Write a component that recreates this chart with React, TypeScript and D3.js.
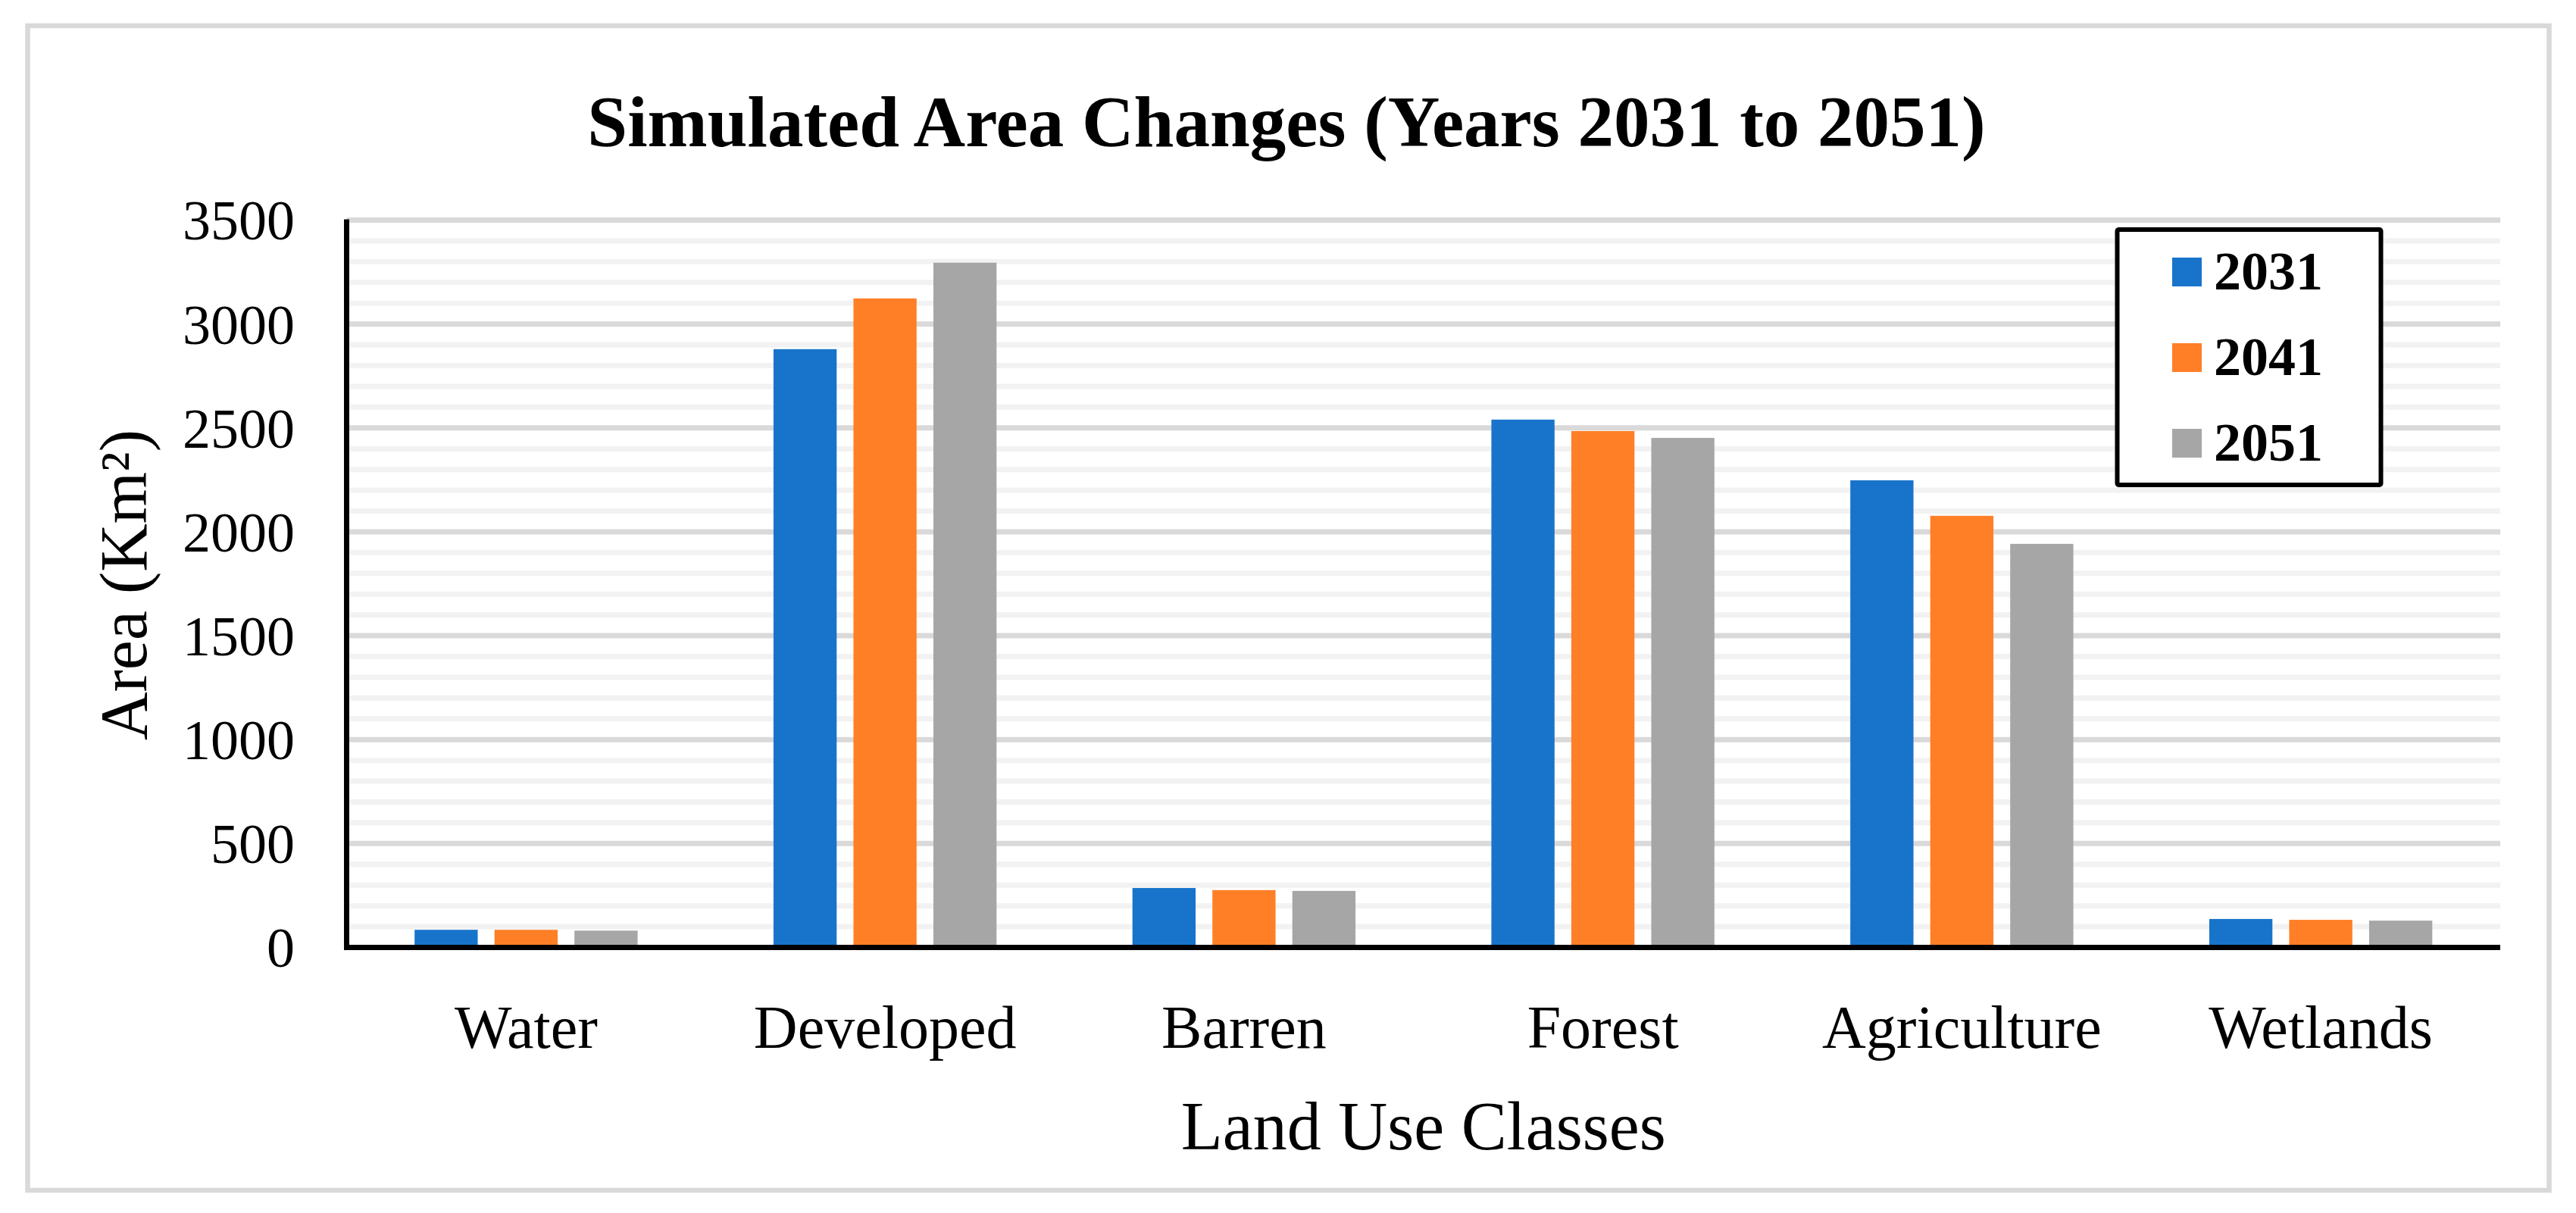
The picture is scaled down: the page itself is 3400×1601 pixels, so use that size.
import * as d3 from 'd3';

const categories = ['Water', 'Developed', 'Barren', 'Forest', 'Agriculture', 'Wetlands'];
const series = ['2031', '2041', '2051'];
const values2031 = [85, 2879, 286, 2540, 2248, 137];
const values2041 = [85, 3123, 276, 2485, 2077, 133];
const values2051 = [81, 3295, 272, 2452, 1942, 129];
const colors = ['#1874CA', '#FF7F27', '#A6A6A6'];
const majorTicks = [0, 500, 1000, 1500, 2000, 2500, 3000, 3500];

const W = 3400;
const H = 1601;
const FONT = '"Liberation Serif", "Times New Roman", serif';

export default function App() {
  const left = 457.5;
  const right = 3300;
  const top = 290.5;
  const bottom = 1250.5;

  const x0 = d3.scaleBand<string>().domain(categories).range([left, right]);
  const x1 = d3
    .scaleBand<string>()
    .domain(series)
    .range([0, x0.bandwidth()])
    .paddingInner(0.21)
    .paddingOuter(0.85);
  const y = d3.scaleLinear().domain([0, 3500]).range([bottom, top]);

  const allValues = [values2031, values2041, values2051];
  const minorTicks = d3.range(0, 3501, 100).filter((t) => t % 500 !== 0);

  // legend box
  const lg = { x: 2794.5, y: 303, w: 348, h: 337 };

  return (
    <svg
      width={W}
      height={H}
      style={{ position: 'absolute', left: 0, top: 0, background: '#fff' }}
      fontFamily={FONT}
    >
      <rect x={0} y={0} width={W} height={H} fill="#fff" />
      <rect x={36.5} y={34} width={3328} height={1537} fill="#fff" stroke="#d9d9d9" strokeWidth={6.5} />

      <text x={1698} y={193} textAnchor="middle" fontSize={95} fontWeight="bold">
        Simulated Area Changes (Years 2031 to 2051)
      </text>

      {/* gridlines */}
      {minorTicks.map((t) => (
        <line key={'mi' + t} x1={left} x2={right} y1={y(t)} y2={y(t)} stroke="#f2f2f2" strokeWidth={7} />
      ))}
      {majorTicks.map((t) => (
        <line key={'ma' + t} x1={left} x2={right} y1={y(t)} y2={y(t)} stroke="#d9d9d9" strokeWidth={7} />
      ))}

      {/* bars */}
      {series.map((s, si) => (
        <g key={s} fill={colors[si]}>
          {categories.map((c, ci) => (
            <rect
              key={c}
              x={(x0(c) as number) + (x1(s) as number)}
              y={y(allValues[si][ci])}
              width={x1.bandwidth()}
              height={y(0) - y(allValues[si][ci])}
            />
          ))}
        </g>
      ))}

      {/* axes */}
      <line x1={left} x2={left} y1={top - 1} y2={bottom + 3.5} stroke="#000" strokeWidth={7} />
      <line x1={left - 3.5} x2={right} y1={bottom} y2={bottom} stroke="#000" strokeWidth={7} />

      {majorTicks.map((t) => (
        <text key={'yl' + t} x={389} y={y(t)} dy="0.35em" textAnchor="end" fontSize={74}>
          {t}
        </text>
      ))}

      {categories.map((c) => (
        <text key={'xl' + c} x={(x0(c) as number) + x0.bandwidth() / 2} y={1383} textAnchor="middle" fontSize={80}>
          {c}
        </text>
      ))}

      <text x={(left + right) / 2} y={1517} textAnchor="middle" fontSize={90}>
        Land Use Classes
      </text>

      <text transform="translate(193,772) rotate(-90)" textAnchor="middle" fontSize={88}>
        Area (Km²)
      </text>

      {/* legend */}
      <rect x={lg.x} y={lg.y} width={lg.w} height={lg.h} fill="#fff" stroke="#000" strokeWidth={6} rx={2} />
      {series.map((s, i) => (
        <g key={'lg' + s} transform={`translate(2867,${340 + i * 113})`}>
          <rect x={0} y={0} width={39} height={38} fill={colors[i]} />
          <text x={55} y={42} fontSize={72} fontWeight="bold">
            {s}
          </text>
        </g>
      ))}
    </svg>
  );
}
